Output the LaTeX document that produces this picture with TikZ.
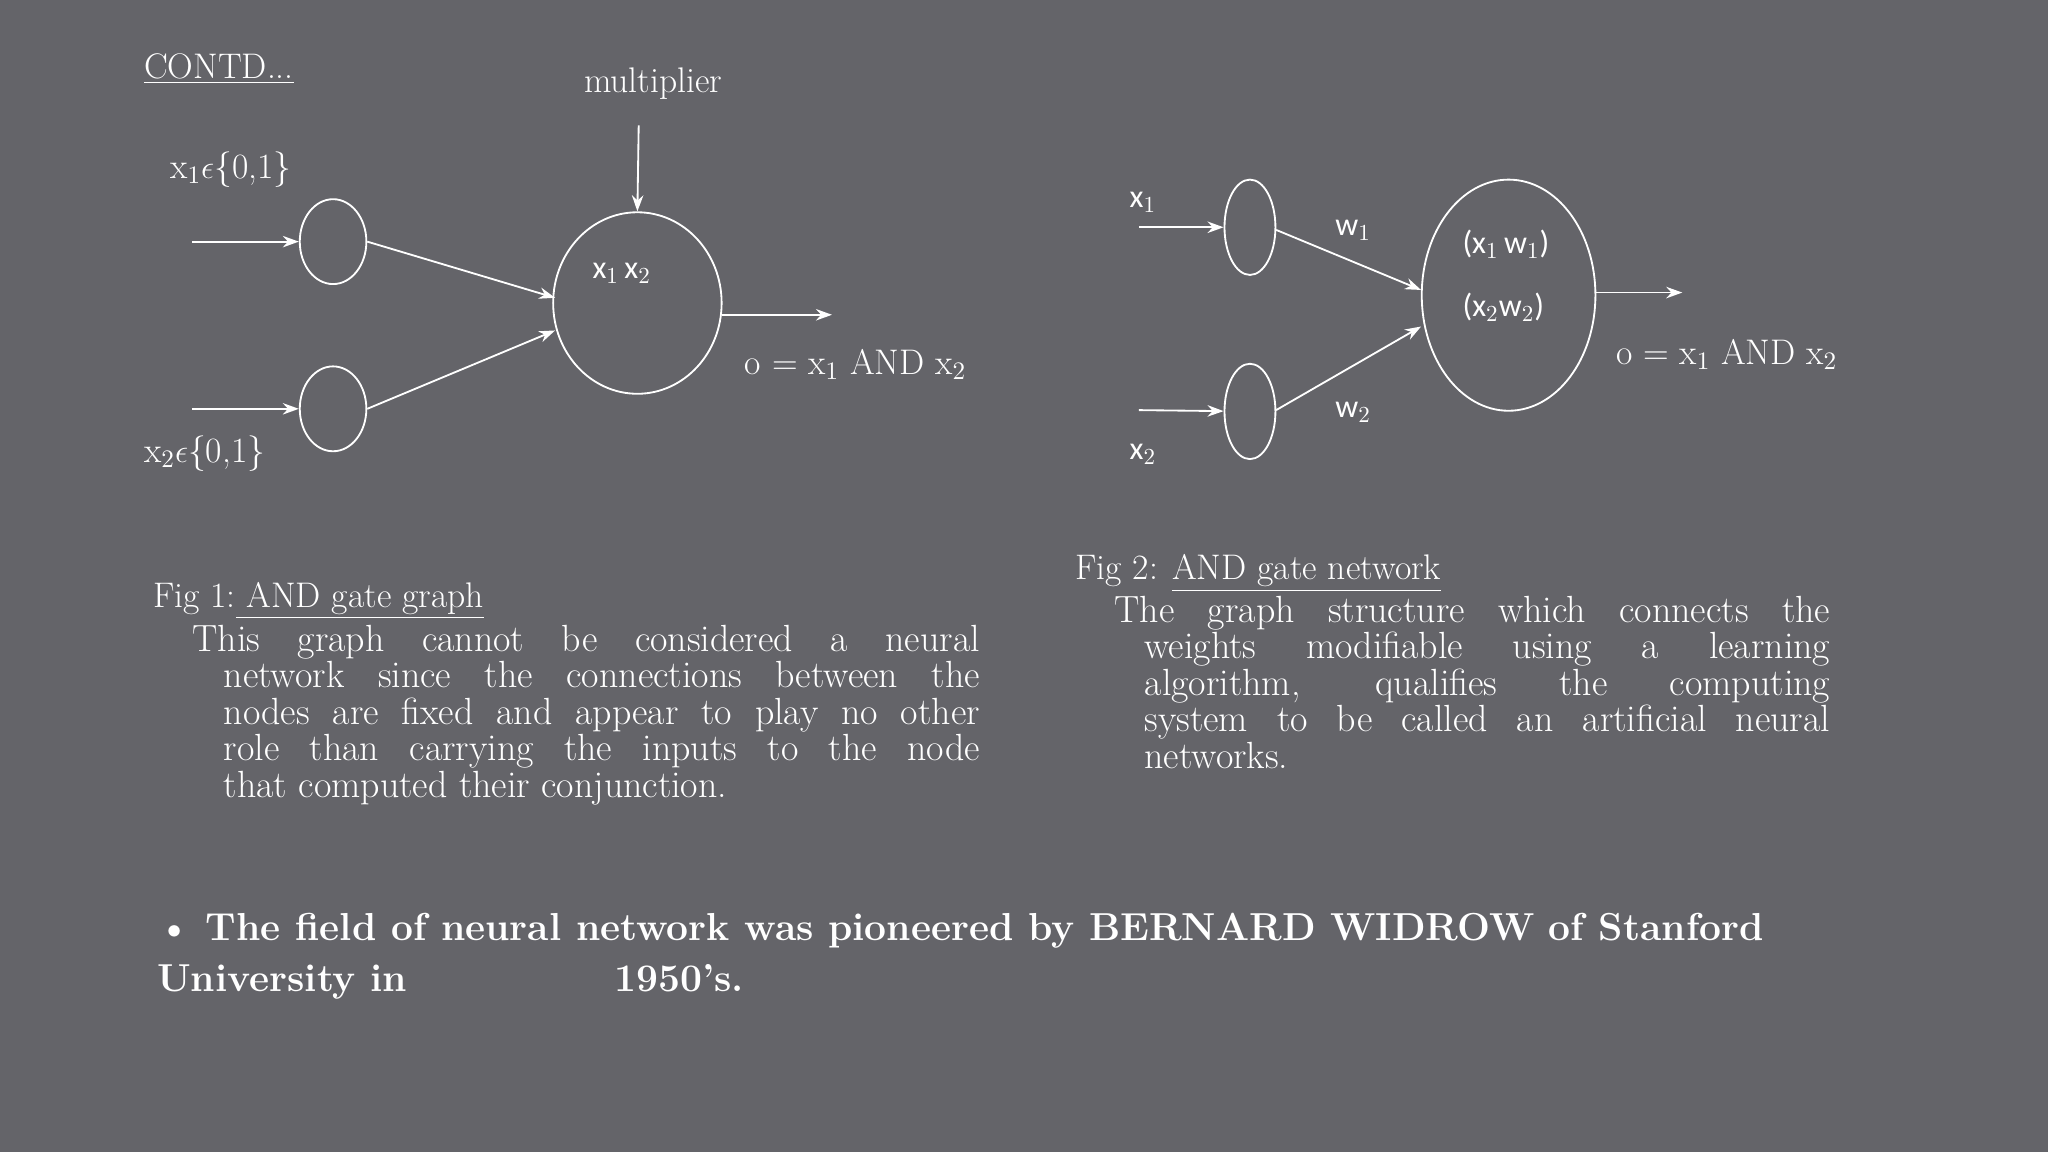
\documentclass[tikz,border=0pt]{standalone}
\usepackage{fontspec}
\newfontfamily\calfont{Carlito}
\usetikzlibrary{arrows.meta,shapes.geometric}
\definecolor{bg}{RGB}{100,100,105}
\begin{document}
\begin{tikzpicture}[x=0.02cm,y=-0.02cm,
  every node/.style={text=white,inner sep=0pt},
  ln/.style={draw=white,line width=0.8pt},
  ar/.style={ln,-{Stealth[length=7pt,width=5pt]}},
  lab/.style={font=\fontsize{15.5}{17}\selectfont},
  slab/.style={font=\calfont\fontsize{14}{16}\selectfont},
  para/.style={font=\fontsize{16.5}{15.9}\selectfont,align=justify,anchor=north west}]
\fill[bg] (0,0) rectangle (1568,882);
\useasboundingbox (0,0) rectangle (1568,882);
% Fig 1
\node[lab,anchor=base west] (contd) at (110,60) {\underline{CONTD...}};
\node[lab] (mult) at (500,64) {multiplier};
\coordinate (mtop) at (489,96);
\node[ln,ellipse,minimum width=1.02cm,minimum height=1.3cm] (a1) at (255,185) {};
\node[ln,ellipse,minimum width=1.02cm,minimum height=1.3cm] (a2) at (255,313) {};
\node[ln,ellipse,minimum width=2.58cm,minimum height=2.78cm] (A) at (488,232) {};
\coordinate (i1) at (147,185); \coordinate (i2) at (147,313);
\coordinate (o1) at (637,241);
\draw[ar] (i1) -- (a1);
\draw[ar] (i2) -- (a2);
\draw[ar] (a1.east) -- (425,228);
\draw[ar] (a2.east) -- (425,253);
\draw[ar] (mtop) -- (A.north);
\draw[ar] (553,241) -- (o1);
\node[lab,anchor=west] (l1) at (130,130) {x$_1$$\epsilon$\{0,1\}};
\node[lab,anchor=west] (l2) at (110,347) {x$_2$$\epsilon$\{0,1\}};
\node[slab] (in1) at (476,209) {x$_1$\,x$_2$};
\node[lab,anchor=west] (out1) at (570,279) {o = x$_1$ AND x$_2$};
% Fig 2
\node[ln,ellipse,minimum width=0.78cm,minimum height=1.46cm] (b1) at (957,174) {};
\node[ln,ellipse,minimum width=0.78cm,minimum height=1.46cm] (b2) at (957,315) {};
\node[ln,ellipse,minimum width=2.66cm,minimum height=3.54cm] (B) at (1155,226) {};
\coordinate (j1) at (872,174); \coordinate (j2) at (872,314);
\coordinate (o2) at (1288,224);
\draw[ar] (j1) -- (b1);
\draw[ar] (j2) -- (b2);
\draw[ar] (977,176) -- (1088,222);
\draw[ar] (977,314) -- (1088,250);
\draw[ar] (1222,224) -- (o2);
\node[slab] (x1) at (875,155) {x$_1$};
\node[slab] (x2) at (875,348) {x$_2$};
\node[slab] (w1) at (1036,176) {w$_1$};
\node[slab] (w2) at (1036,316) {w$_2$};
\node[slab] (xw1) at (1153,187) {(x$_1$\,w$_1$)};
\node[slab] (xw2) at (1151,235) {(x$_2$w$_2$)};
\node[lab,anchor=west] (out2) at (1237,271) {o = x$_1$ AND x$_2$};
% texts
\node[lab,anchor=base west] (f1) at (117,465) {Fig 1:\underline{ AND gate graph}};
\node[para,text width=11.58cm] (p1) at (171,478) {\hspace*{-0.48cm}This graph cannot be considered a neural\linebreak network since the connections between the\linebreak nodes are fixed and appear to play no other\linebreak role than carrying the inputs to the node\linebreak that computed their conjunction.};
\node[lab,anchor=base west] (f2) at (823,444) {Fig 2: \underline{AND gate network}};
\node[para,text width=10.5cm] (p2) at (876,456) {\hspace*{-0.46cm}The graph structure which connects the\linebreak weights modifiable using a learning\linebreak algorithm, qualifies the computing\linebreak system to be called an artificial neural\linebreak networks.};
\node[anchor=base west,font=\bfseries\fontsize{17}{19}\selectfont] (b) at (120,720) {\textbullet{} The field of neural network was pioneered by BERNARD WIDROW of Stanford};
\node[anchor=base west,font=\bfseries\fontsize{17}{19}\selectfont] (b2t) at (120,759) {University in};
\node[anchor=base west,font=\bfseries\fontsize{17}{19}\selectfont] (b3) at (470,759) {1950’s.};
\end{tikzpicture}
\end{document}
